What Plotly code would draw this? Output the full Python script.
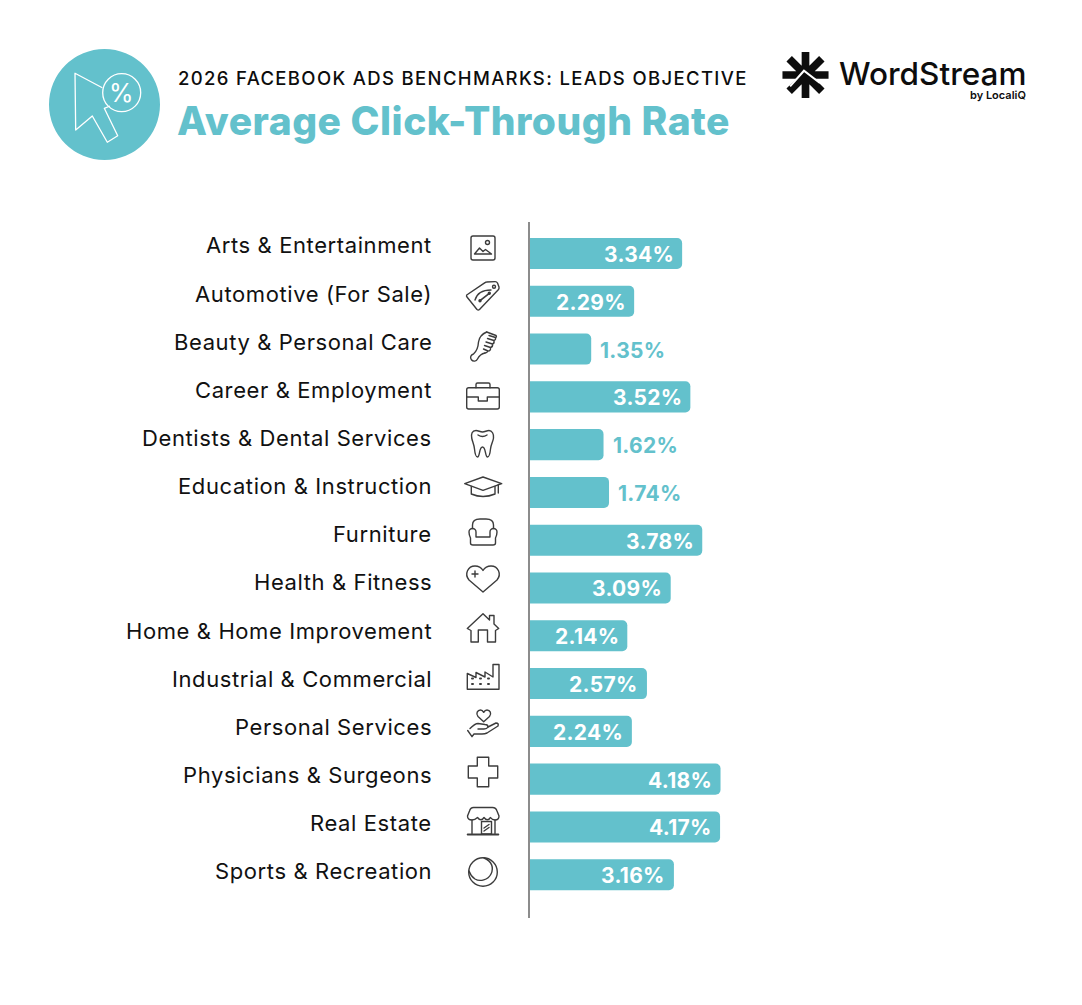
import base64
import plotly.graph_objects as go

categories = [
    "Arts & Entertainment", "Automotive (For Sale)", "Beauty & Personal Care",
    "Career & Employment", "Dentists & Dental Services", "Education & Instruction",
    "Furniture", "Health & Fitness", "Home & Home Improvement",
    "Industrial & Commercial", "Personal Services", "Physicians & Surgeons",
    "Real Estate", "Sports & Recreation",
]
ctr_values = [3.34, 2.29, 1.35, 3.52, 1.62, 1.74, 3.78, 3.09, 2.14, 2.57, 2.24, 4.18, 4.17, 3.16]

TEAL = "#63c1cc"
INK = "#3c3c3c"
WIDTH, HEIGHT = 1082, 1005
FONT = "Inter"


def px_x(x):
    return x / WIDTH


def px_y(y):
    return 1 - y / HEIGHT


def svg_uri(body, size=40):
    svg = (
        f'<svg xmlns="http://www.w3.org/2000/svg" width="{size * 4}" height="{size * 4}" '
        f'viewBox="0 0 {size} {size}">{body}</svg>'
    )
    return "data:image/svg+xml;base64," + base64.b64encode(svg.encode()).decode()


def line_icon(paths):
    return svg_uri(
        f'<g fill="none" stroke="{INK}" stroke-width="1.4" stroke-linejoin="round" '
        f'stroke-linecap="round">{paths}</g>'
    )


def spaced(text, px):
    return f'<span style="letter-spacing:{px}px">{text}</span>'


# one small line drawing per row, 40x40 box, with the y centre of each on the page
icons = [
    (248, '<rect x="8" y="8" width="24" height="24" rx="2"/><circle cx="24.5" cy="14.5" r="2"/>'
          '<path d="M11.5 26 L16.5 20 L20 23.5 L22.5 21.5 L28.5 26 Z"/>'),
    (296, '<path d="M3.7 19 Q3.2 20 4 21 L14 33.5 Q15.3 34.5 16.5 33.5 L35.5 13.5 Q36.3 12.5 36 11 '
          'L34.5 7 Q33.7 5.5 32 5.6 L23.5 6 Q22.7 6 22 6.7 Z"/>'
          '<circle cx="31" cy="10.7" r="1.5"/><path d="M12 24 C14 17 19 14 28 14"/>'
          '<path stroke-width="1.7" d="M17 24.7 L26.3 17.3"/>'
          '<circle cx="17" cy="24.7" r="1" fill="#3c3c3c"/><circle cx="26.3" cy="17.3" r="1" fill="#3c3c3c"/>'),
    (347, '<path d="M23.7 5 Q16.5 8 15.5 15 Q15 23 10.5 27 A3.6 3.6 0 1 0 14.5 32 Q17 27 22 26"/>'
          '<path d="M23.7 5 L33 8.5 Q34 10 32.5 10.5 L26 8.5 M32.5 10.5 Q33 13 31 13.5 L24.5 11.5 '
          'M31 13.5 Q31.5 16.5 29.5 17 L23 15 M29.5 17 Q30 20 27.5 20.5 L21.5 18.5 M27.5 20.5 '
          'Q28 24 25 24 L20.5 22 M25 24 Q24 26 22 26"/>'),
    (396, '<rect x="3.7" y="11.7" width="32.6" height="21.3" rx="2"/>'
          '<path d="M13 11.7 V8.5 Q13 7 14.5 7 H25.5 Q27 7 27 8.5 V11.7"/>'
          '<path d="M3.7 21 H15.3 V25 H24.3 V21 H36.3"/>'),
    (444, '<path d="M13 6.5 C9 6.5 8 10 8.7 14 C9.5 18 11 20 11.5 25 C12 30 13 33 14.5 33 '
          'C17 33 16 23 19.5 23 C23 23 22 33 24.5 33 C26 33 27 30 27.5 25 C28 20 30 18 30.5 14 '
          'C31 10 29 6.5 26 6.5 C23.5 6.5 22 8 19.5 8 C17 8 15.5 6.5 13 6.5 Z"/>'
          '<path d="M15 11 Q19.5 14 24 11"/>'),
    (487, '<path d="M1.7 16.7 L20 10 L38.7 16.7 L20 23.3 Z"/>'
          '<path d="M8.3 19.5 V27 Q20 32 32 27 V19.5"/><path d="M35.3 17.5 V26"/>'),
    (532, '<path d="M6 20 a3.5 3.5 0 0 1 7 0 V25 H27 V20 a3.5 3.5 0 0 1 7 0 C34 23 33 25 32.5 26 '
          'V31 Q32.5 33 30 33 H10 Q7.5 33 7.5 31 V26 C7 25 6 23 6 20 Z"/>'
          '<path d="M9.5 16.5 V13 Q9.5 7 17 7 H23 Q30.5 7 30.5 13 V16.5"/>'),
    (579, '<path d="M20 33 L6 21 C1 15 5 7 12 7 C16 7 18.5 9 20 11.5 C21.5 9 24 7 28 7 '
          'C35 7 39 15 34 21 Z"/><path d="M12 12 V18 M9 15 H15"/>'),
    (628, '<path d="M4.3 20.5 L20 5.7 L26.5 12 V7.5 H31 V16 L35.7 20.5 L32.5 22.5 V34 H24.5 V22 '
          'H15.3 V34 H8 V22.5 Z"/>'),
    (677, '<path d="M4.3 16.5 L13 20.5 V15.5 L22 20 V15 L30 20 V7.5 H36 V32.3 H4.3 Z"/>'
          '<path stroke-width="2" d="M9 21.5 h1 M17 21.5 h1 M25 21.5 h1 M9 27 h1 M17 27 h1 M25 27 h1"/>'),
    (723, '<path d="M20.7 18.7 L15 13.5 C12.5 10.5 14.5 7 17.5 7 C19 7 20 8 20.7 9.3 '
          'C21.4 8 22.5 7 24 7 C27 7 29 10.5 26.5 13.5 Z"/>'
          '<path d="M4.7 27.5 L9 33.7 L11 31 H19 Q22 31 24 30 L35 23 Q36 20 33 20 L25 24 Q24 26 21 26 H15"/>'
          '<path d="M25 24 Q25 21.5 22 21.5 L15 20.5 Q12 20.5 7 25.5"/>'),
    (772, '<path d="M14.3 5.3 H25.7 V14 H34.7 V26 H25.7 V34.7 H14.3 V26 H5.3 V14 H14.3 Z"/>'),
    (822, '<path d="M10.5 5.5 H29.5 Q33 5.5 34 9 L36 14 Q36 18 32 18 Q29 18 27.5 15.5 Q24.5 20 21 15.5 '
          'Q18 20 14.5 15.5 Q12 18 9 18 Q4.5 18 4.5 14 L6.5 9 Q7.5 5.5 10.5 5.5 Z"/>'
          '<path d="M9 18 V31.5 M32 18 V31.5"/><path stroke-width="2" d="M4.7 32.5 H35.3"/>'
          '<rect x="18.5" y="19.5" width="10" height="12.5"/><path d="M21 26 L26 22.5 M21 29 L26 25.5"/>'),
    (872, '<circle cx="20" cy="20" r="14.3"/><path d="M21 6 C29 9 31 16 28 22 C25 28 17 30 12 27 C9 25 7 22 6 19"/>'),
]

cursor_icon = svg_uri(
    '<g fill="none" stroke="white" stroke-width="1.3" stroke-linejoin="round">'
    '<path d="M52.3 37.7 L25 23.3 L25.7 80 L42.3 66 L57.3 92.3 L67.7 85.7 L54.3 58.3 L60 56"/>'
    '<circle cx="71.7" cy="42.7" r="19"/></g>',
    110,
)

logo_mark = svg_uri(
    '<g stroke="#0d0d0d" stroke-width="8"><path d="M25 1 V49 M1 25 H49 M8 8 L42 42 M42 8 L8 42"/></g>'
    '<path d="M8.9 36.8 L23.4 20.5 L40 33.3" fill="none" stroke="white" stroke-width="2.2"/>',
    50,
)

fig = go.Figure(
    go.Bar(
        x=ctr_values,
        y=categories,
        orientation="h",
        marker=dict(color=TEAL, cornerradius=5, line_width=0),
        hoverinfo="skip",
    )
)

annotations = []


def add_text(text, x, y, size, color="#0d0d0d", anchor="left", weight=400):
    annotations.append(dict(
        text=text, x=px_x(x), y=px_y(y), xref="paper", yref="paper",
        xanchor=anchor, yanchor="middle", showarrow=False,
        font=dict(family=FONT, size=size, color=color, weight=weight),
    ))


add_text(spaced("2026 FACEBOOK ADS BENCHMARKS: LEADS OBJECTIVE", 1.35), 176, 78, 18.5, weight=500)
add_text(spaced("Average Click-Through Rate", 0.5), 175, 121, 39, color=TEAL, weight=800)
add_text("%", 121.7, 92.7, 25, color="white", anchor="center", weight=400)
add_text("WordStream", 837, 73.5, 31.5, weight=500)
add_text("by LocaliQ", 1028, 94.5, 11, anchor="right", weight=600)

for i, (cat, val) in enumerate(zip(categories, ctr_values)):
    # row labels sit a little above the bars and drift slowly down the page
    annotations.append(dict(
        text=spaced(cat, 0.6), x=0, y=cat, xref="x", yref="y",
        xanchor="right", yanchor="middle", xshift=-95.5, yshift=8 - 0.35 * i, showarrow=False,
        font=dict(family=FONT, size=22, color="#111111", weight=400),
    ))
    inside = val > 2
    annotations.append(dict(
        text=spaced(f"{val:.2f}%", 0.3), x=val, y=cat, xref="x", yref="y",
        xanchor="right" if inside else "left", yanchor="middle",
        xshift=-6.5 if inside else 7, yshift=-1, showarrow=False,
        font=dict(family=FONT, size=21, color="white" if inside else TEAL, weight=700),
    ))

images = [
    dict(source=line_icon(body), x=px_x(483), y=px_y(cy), xref="paper", yref="paper",
         sizex=40 / WIDTH, sizey=40 / HEIGHT, xanchor="center", yanchor="middle", layer="above")
    for cy, body in icons
]
images.append(dict(source=cursor_icon, x=px_x(50), y=px_y(50), xref="paper", yref="paper",
                   sizex=110 / WIDTH, sizey=110 / HEIGHT, xanchor="left", yanchor="top", layer="above"))
images.append(dict(source=logo_mark, x=px_x(805.5), y=px_y(75), xref="paper", yref="paper",
                   sizex=48 / WIDTH, sizey=48 / HEIGHT, xanchor="center", yanchor="middle", layer="above"))

fig.update_layout(
    width=WIDTH,
    height=HEIGHT,
    margin=dict(l=0, r=0, t=0, b=0),
    paper_bgcolor="white",
    plot_bgcolor="white",
    showlegend=False,
    bargap=0.35,
    annotations=annotations,
    images=images,
    shapes=[dict(type="circle", xref="paper", yref="paper",
                 x0=px_x(49), x1=px_x(160), y0=px_y(49), y1=px_y(160),
                 fillcolor=TEAL, line_width=0, layer="below")],
    xaxis=dict(domain=[px_x(529.5), 1], range=[0, 552.5 / 45.7], visible=False),
    yaxis=dict(
        domain=[px_y(918), px_y(222)],
        type="category",
        categoryorder="array",
        categoryarray=categories,
        range=[13.906, -0.659],
        showline=True,
        linecolor="#8c8c8c",
        linewidth=1.5,
        showgrid=False,
        showticklabels=False,
        ticks="",
        zeroline=False,
    ),
)

fig.write_html("out.html", post_script="document.body.style.margin = '0';", config={"displayModeBar": False})
